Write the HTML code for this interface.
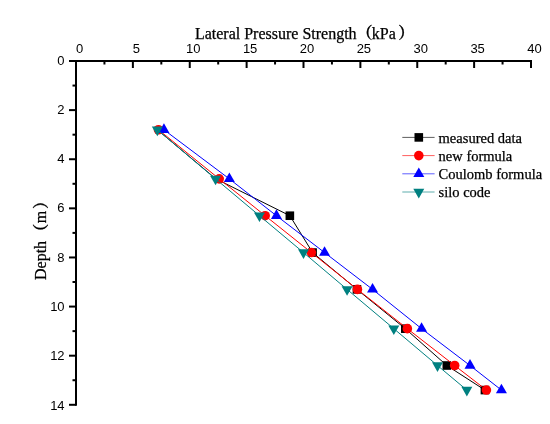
<!DOCTYPE html>
<html><head><meta charset="utf-8"><style>
html,body{margin:0;padding:0;background:#fff;}
svg{display:block;}
.sf{stroke:#000;stroke-width:0.25px;}
</style></head><body>
<svg width="550" height="424" viewBox="0 0 550 424">
<rect width="550" height="424" fill="#fff"/>
<line x1="69" y1="61.0" x2="532.0" y2="61.0" stroke="#000" stroke-width="2"/>
<line x1="76.0" y1="60.0" x2="76.0" y2="405.8" stroke="#000" stroke-width="2"/>
<line x1="104.44" y1="61.0" x2="104.44" y2="64.5" stroke="#000" stroke-width="2"/>
<line x1="132.88" y1="61.0" x2="132.88" y2="68.0" stroke="#000" stroke-width="2"/>
<line x1="161.31" y1="61.0" x2="161.31" y2="64.5" stroke="#000" stroke-width="2"/>
<line x1="189.75" y1="61.0" x2="189.75" y2="68.0" stroke="#000" stroke-width="2"/>
<line x1="218.19" y1="61.0" x2="218.19" y2="64.5" stroke="#000" stroke-width="2"/>
<line x1="246.62" y1="61.0" x2="246.62" y2="68.0" stroke="#000" stroke-width="2"/>
<line x1="275.06" y1="61.0" x2="275.06" y2="64.5" stroke="#000" stroke-width="2"/>
<line x1="303.50" y1="61.0" x2="303.50" y2="68.0" stroke="#000" stroke-width="2"/>
<line x1="331.94" y1="61.0" x2="331.94" y2="64.5" stroke="#000" stroke-width="2"/>
<line x1="360.38" y1="61.0" x2="360.38" y2="68.0" stroke="#000" stroke-width="2"/>
<line x1="388.81" y1="61.0" x2="388.81" y2="64.5" stroke="#000" stroke-width="2"/>
<line x1="417.25" y1="61.0" x2="417.25" y2="68.0" stroke="#000" stroke-width="2"/>
<line x1="445.69" y1="61.0" x2="445.69" y2="64.5" stroke="#000" stroke-width="2"/>
<line x1="474.12" y1="61.0" x2="474.12" y2="68.0" stroke="#000" stroke-width="2"/>
<line x1="502.56" y1="61.0" x2="502.56" y2="64.5" stroke="#000" stroke-width="2"/>
<line x1="531.00" y1="61.0" x2="531.00" y2="68.0" stroke="#000" stroke-width="2"/>
<line x1="69.0" y1="61.00" x2="76.0" y2="61.00" stroke="#000" stroke-width="2"/>
<line x1="72.5" y1="85.56" x2="76.0" y2="85.56" stroke="#000" stroke-width="2"/>
<line x1="69.0" y1="110.11" x2="76.0" y2="110.11" stroke="#000" stroke-width="2"/>
<line x1="72.5" y1="134.67" x2="76.0" y2="134.67" stroke="#000" stroke-width="2"/>
<line x1="69.0" y1="159.23" x2="76.0" y2="159.23" stroke="#000" stroke-width="2"/>
<line x1="72.5" y1="183.79" x2="76.0" y2="183.79" stroke="#000" stroke-width="2"/>
<line x1="69.0" y1="208.34" x2="76.0" y2="208.34" stroke="#000" stroke-width="2"/>
<line x1="72.5" y1="232.90" x2="76.0" y2="232.90" stroke="#000" stroke-width="2"/>
<line x1="69.0" y1="257.46" x2="76.0" y2="257.46" stroke="#000" stroke-width="2"/>
<line x1="72.5" y1="282.01" x2="76.0" y2="282.01" stroke="#000" stroke-width="2"/>
<line x1="69.0" y1="306.57" x2="76.0" y2="306.57" stroke="#000" stroke-width="2"/>
<line x1="72.5" y1="331.13" x2="76.0" y2="331.13" stroke="#000" stroke-width="2"/>
<line x1="69.0" y1="355.69" x2="76.0" y2="355.69" stroke="#000" stroke-width="2"/>
<line x1="72.5" y1="380.24" x2="76.0" y2="380.24" stroke="#000" stroke-width="2"/>
<line x1="69.0" y1="404.80" x2="76.0" y2="404.80" stroke="#000" stroke-width="2"/>
<text x="79.50" y="53" text-anchor="middle" font-family="'Liberation Sans', Arial, sans-serif" font-size="13">0</text>
<text x="136.38" y="53" text-anchor="middle" font-family="'Liberation Sans', Arial, sans-serif" font-size="13">5</text>
<text x="193.25" y="53" text-anchor="middle" font-family="'Liberation Sans', Arial, sans-serif" font-size="13">10</text>
<text x="250.12" y="53" text-anchor="middle" font-family="'Liberation Sans', Arial, sans-serif" font-size="13">15</text>
<text x="307.00" y="53" text-anchor="middle" font-family="'Liberation Sans', Arial, sans-serif" font-size="13">20</text>
<text x="363.88" y="53" text-anchor="middle" font-family="'Liberation Sans', Arial, sans-serif" font-size="13">25</text>
<text x="420.75" y="53" text-anchor="middle" font-family="'Liberation Sans', Arial, sans-serif" font-size="13">30</text>
<text x="477.62" y="53" text-anchor="middle" font-family="'Liberation Sans', Arial, sans-serif" font-size="13">35</text>
<text x="534.50" y="53" text-anchor="middle" font-family="'Liberation Sans', Arial, sans-serif" font-size="13">40</text>
<text x="64.6" y="64.60" text-anchor="end" font-family="'Liberation Sans', Arial, sans-serif" font-size="13">0</text>
<text x="64.6" y="113.88" text-anchor="end" font-family="'Liberation Sans', Arial, sans-serif" font-size="13">2</text>
<text x="64.6" y="163.16" text-anchor="end" font-family="'Liberation Sans', Arial, sans-serif" font-size="13">4</text>
<text x="64.6" y="212.44" text-anchor="end" font-family="'Liberation Sans', Arial, sans-serif" font-size="13">6</text>
<text x="64.6" y="261.72" text-anchor="end" font-family="'Liberation Sans', Arial, sans-serif" font-size="13">8</text>
<text x="64.6" y="311.00" text-anchor="end" font-family="'Liberation Sans', Arial, sans-serif" font-size="13">10</text>
<text x="64.6" y="360.28" text-anchor="end" font-family="'Liberation Sans', Arial, sans-serif" font-size="13">12</text>
<text x="64.6" y="409.56" text-anchor="end" font-family="'Liberation Sans', Arial, sans-serif" font-size="13">14</text>
<text class="sf" y="39.4" font-family="'Liberation Serif', 'Noto Serif CJK SC', serif" font-size="16"><tspan x="194.9">Lateral Pressure Strength</tspan><tspan x="356.4" dy="-1.2" font-family="'Noto Serif CJK SC', serif" font-weight="700">（</tspan><tspan x="371.8" dy="1.2">kPa</tspan><tspan x="398.2" dy="-1.2" font-family="'Noto Serif CJK SC', serif" font-weight="700">）</tspan></text>
<text class="sf" transform="translate(45.6,0) rotate(-90)" font-family="'Liberation Serif', 'Noto Serif CJK SC', serif" font-size="16"><tspan x="-280">Depth</tspan><tspan x="-239.7" font-family="'Noto Serif CJK SC', serif" font-weight="700">（</tspan><tspan x="-223.2">m</tspan><tspan x="-209" font-family="'Noto Serif CJK SC', serif" font-weight="700">）</tspan></text>
<polyline points="157.33,129.76 215.91,178.87 289.85,215.71 312.60,252.55 356.96,289.38 405.31,328.67 446.82,365.51 484.93,390.07" fill="none" stroke="#000000" stroke-width="1.0"/>
<rect x="285.55" y="211.41" width="8.6" height="8.6" fill="#000000"/>
<rect x="308.30" y="248.25" width="8.6" height="8.6" fill="#000000"/>
<rect x="352.66" y="285.08" width="8.6" height="8.6" fill="#000000"/>
<rect x="401.01" y="324.37" width="8.6" height="8.6" fill="#000000"/>
<rect x="442.52" y="361.21" width="8.6" height="8.6" fill="#000000"/>
<rect x="480.63" y="385.77" width="8.6" height="8.6" fill="#000000"/>
<polyline points="158.47,129.76 219.21,178.87 265.17,215.71 311.35,252.55 357.42,289.38 407.35,328.67 454.67,365.51 486.41,390.07" fill="none" stroke="#ff0000" stroke-width="1.0"/>
<circle cx="158.47" cy="129.76" r="4.8" fill="#ff0000"/>
<circle cx="219.21" cy="178.87" r="4.8" fill="#ff0000"/>
<circle cx="265.17" cy="215.71" r="4.8" fill="#ff0000"/>
<circle cx="311.35" cy="252.55" r="4.8" fill="#ff0000"/>
<circle cx="357.42" cy="289.38" r="4.8" fill="#ff0000"/>
<circle cx="407.35" cy="328.67" r="4.8" fill="#ff0000"/>
<circle cx="454.67" cy="365.51" r="4.8" fill="#ff0000"/>
<circle cx="486.41" cy="390.07" r="4.8" fill="#ff0000"/>
<polyline points="163.93,129.76 229.34,178.87 276.43,215.71 324.54,252.55 372.55,289.38 421.57,328.67 470.03,365.51 501.43,390.07" fill="none" stroke="#0000ff" stroke-width="1.0"/>
<polygon points="163.93,123.36 169.43,132.96 158.43,132.96" fill="#0000ff"/>
<polygon points="229.34,172.47 234.84,182.07 223.84,182.07" fill="#0000ff"/>
<polygon points="276.43,209.31 281.93,218.91 270.93,218.91" fill="#0000ff"/>
<polygon points="324.54,246.15 330.04,255.75 319.04,255.75" fill="#0000ff"/>
<polygon points="372.55,282.98 378.05,292.58 367.05,292.58" fill="#0000ff"/>
<polygon points="421.57,322.27 427.07,331.87 416.07,331.87" fill="#0000ff"/>
<polygon points="470.03,359.11 475.53,368.71 464.53,368.71" fill="#0000ff"/>
<polygon points="501.43,383.67 506.93,393.27 495.93,393.27" fill="#0000ff"/>
<polyline points="157.33,129.76 215.57,178.87 259.48,215.71 303.50,252.55 347.07,289.38 393.82,328.67 437.50,365.51 466.84,390.07" fill="none" stroke="#008080" stroke-width="1.0"/>
<polygon points="151.83,126.56 162.83,126.56 157.33,136.16" fill="#008080"/>
<polygon points="210.07,175.67 221.07,175.67 215.57,185.27" fill="#008080"/>
<polygon points="253.98,212.51 264.98,212.51 259.48,222.11" fill="#008080"/>
<polygon points="298.00,249.35 309.00,249.35 303.50,258.95" fill="#008080"/>
<polygon points="341.57,286.18 352.57,286.18 347.07,295.78" fill="#008080"/>
<polygon points="388.32,325.47 399.32,325.47 393.82,335.07" fill="#008080"/>
<polygon points="432.00,362.31 443.00,362.31 437.50,371.91" fill="#008080"/>
<polygon points="461.34,386.87 472.34,386.87 466.84,396.47" fill="#008080"/>
<line x1="402.3" y1="137.40" x2="434.6" y2="137.40" stroke="#000000" stroke-width="0.8" stroke-opacity="0.8"/>
<rect x="414.50" y="133.10" width="8.6" height="8.6" fill="#000000"/>
<text class="sf" x="438.6" y="142.80" font-family="'Liberation Serif', 'Noto Serif CJK SC', serif" font-size="14.5">measured data</text>
<line x1="402.3" y1="155.60" x2="434.6" y2="155.60" stroke="#ff0000" stroke-width="0.8" stroke-opacity="0.8"/>
<circle cx="418.80" cy="155.60" r="4.8" fill="#ff0000"/>
<text class="sf" x="438.6" y="161.00" font-family="'Liberation Serif', 'Noto Serif CJK SC', serif" font-size="14.5">new formula</text>
<line x1="402.3" y1="173.80" x2="434.6" y2="173.80" stroke="#0000ff" stroke-width="0.8" stroke-opacity="0.8"/>
<polygon points="418.80,167.40 424.30,177.00 413.30,177.00" fill="#0000ff"/>
<text class="sf" x="438.6" y="179.20" font-family="'Liberation Serif', 'Noto Serif CJK SC', serif" font-size="14.5">Coulomb formula</text>
<line x1="402.3" y1="192.00" x2="434.6" y2="192.00" stroke="#008080" stroke-width="0.8" stroke-opacity="0.8"/>
<polygon points="413.30,188.80 424.30,188.80 418.80,198.40" fill="#008080"/>
<text class="sf" x="438.6" y="197.40" font-family="'Liberation Serif', 'Noto Serif CJK SC', serif" font-size="14.5">silo code</text>
</svg>
</body></html>
